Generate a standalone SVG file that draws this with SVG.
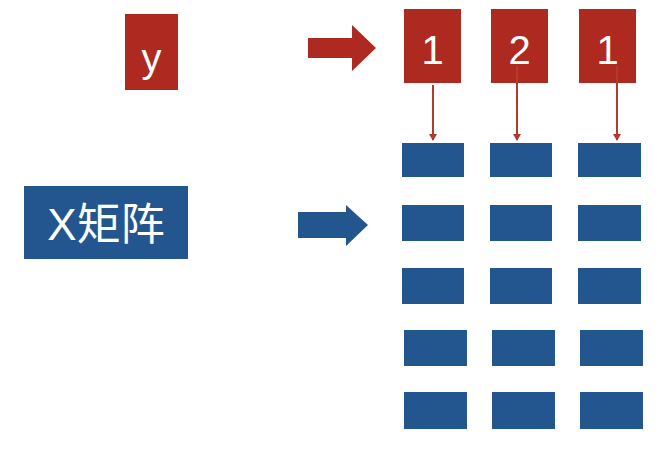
<svg xmlns="http://www.w3.org/2000/svg" width="664" height="450" viewBox="0 0 664 450">
<style>
.r{fill:#ae2a20}.b{fill:#23568e}
.t{fill:#fff;font-family:"Liberation Sans","Noto Sans CJK SC",sans-serif;text-anchor:middle}
.c{stroke:#b03a2e;stroke-width:2;fill:none}
</style>
<defs><marker id="m" markerWidth="8" markerHeight="8" refX="6" refY="4" orient="auto" markerUnits="userSpaceOnUse"><path d="M0,0L7,4L0,8Z" fill="#b03a2e"/></marker></defs>
<rect width="664" height="450" fill="#fff"/>
<g id="y"><rect class="r" x="125" y="14" width="53" height="76"/><text class="t" x="151.5" y="72" font-size="40">y</text></g>
<g id="x"><rect class="b" x="24" y="186" width="164" height="73"/><text class="t" x="106" y="240" font-size="44">X矩阵</text></g>
<g id="y1"><rect class="r" x="404" y="9" width="57" height="74"/><text class="t" x="432.5" y="64" font-size="40">1</text></g>
<g id="y2"><rect class="r" x="491" y="9" width="57" height="74"/><text class="t" x="519.5" y="64" font-size="40">2</text></g>
<g id="y3"><rect class="r" x="579" y="9" width="57" height="74"/><text class="t" x="607.5" y="64" font-size="40">1</text></g>
<g id="grid" class="b">
<rect x="402" y="143" width="62" height="34"/><rect x="490" y="143" width="62" height="34"/><rect x="578" y="143" width="63" height="34"/>
<rect x="402" y="205" width="62" height="36"/><rect x="490" y="205" width="62" height="36"/><rect x="578" y="205" width="63" height="36"/>
<rect x="402" y="268" width="62" height="36"/><rect x="490" y="268" width="62" height="36"/><rect x="578" y="268" width="63" height="36"/>
<rect x="404" y="330" width="63" height="36"/><rect x="492" y="330" width="63" height="36"/><rect x="580" y="330" width="63" height="36"/>
<rect x="404" y="392" width="63" height="37"/><rect x="492" y="392" width="63" height="37"/><rect x="580" y="392" width="63" height="37"/>
</g>
<g id="connectors">
<path class="r" d="M308,38H352V25L376,48L352,71V58H308Z"/>
<path class="b" d="M298,212H346V205L368,225L346,246V238H298Z"/>
<line class="c" x1="433" y1="85" x2="433" y2="140" marker-end="url(#m)"/>
<line class="c" x1="517" y1="66" x2="517" y2="140" marker-end="url(#m)"/>
<line class="c" x1="617" y1="66" x2="617" y2="140" marker-end="url(#m)"/>
</g>
</svg>
